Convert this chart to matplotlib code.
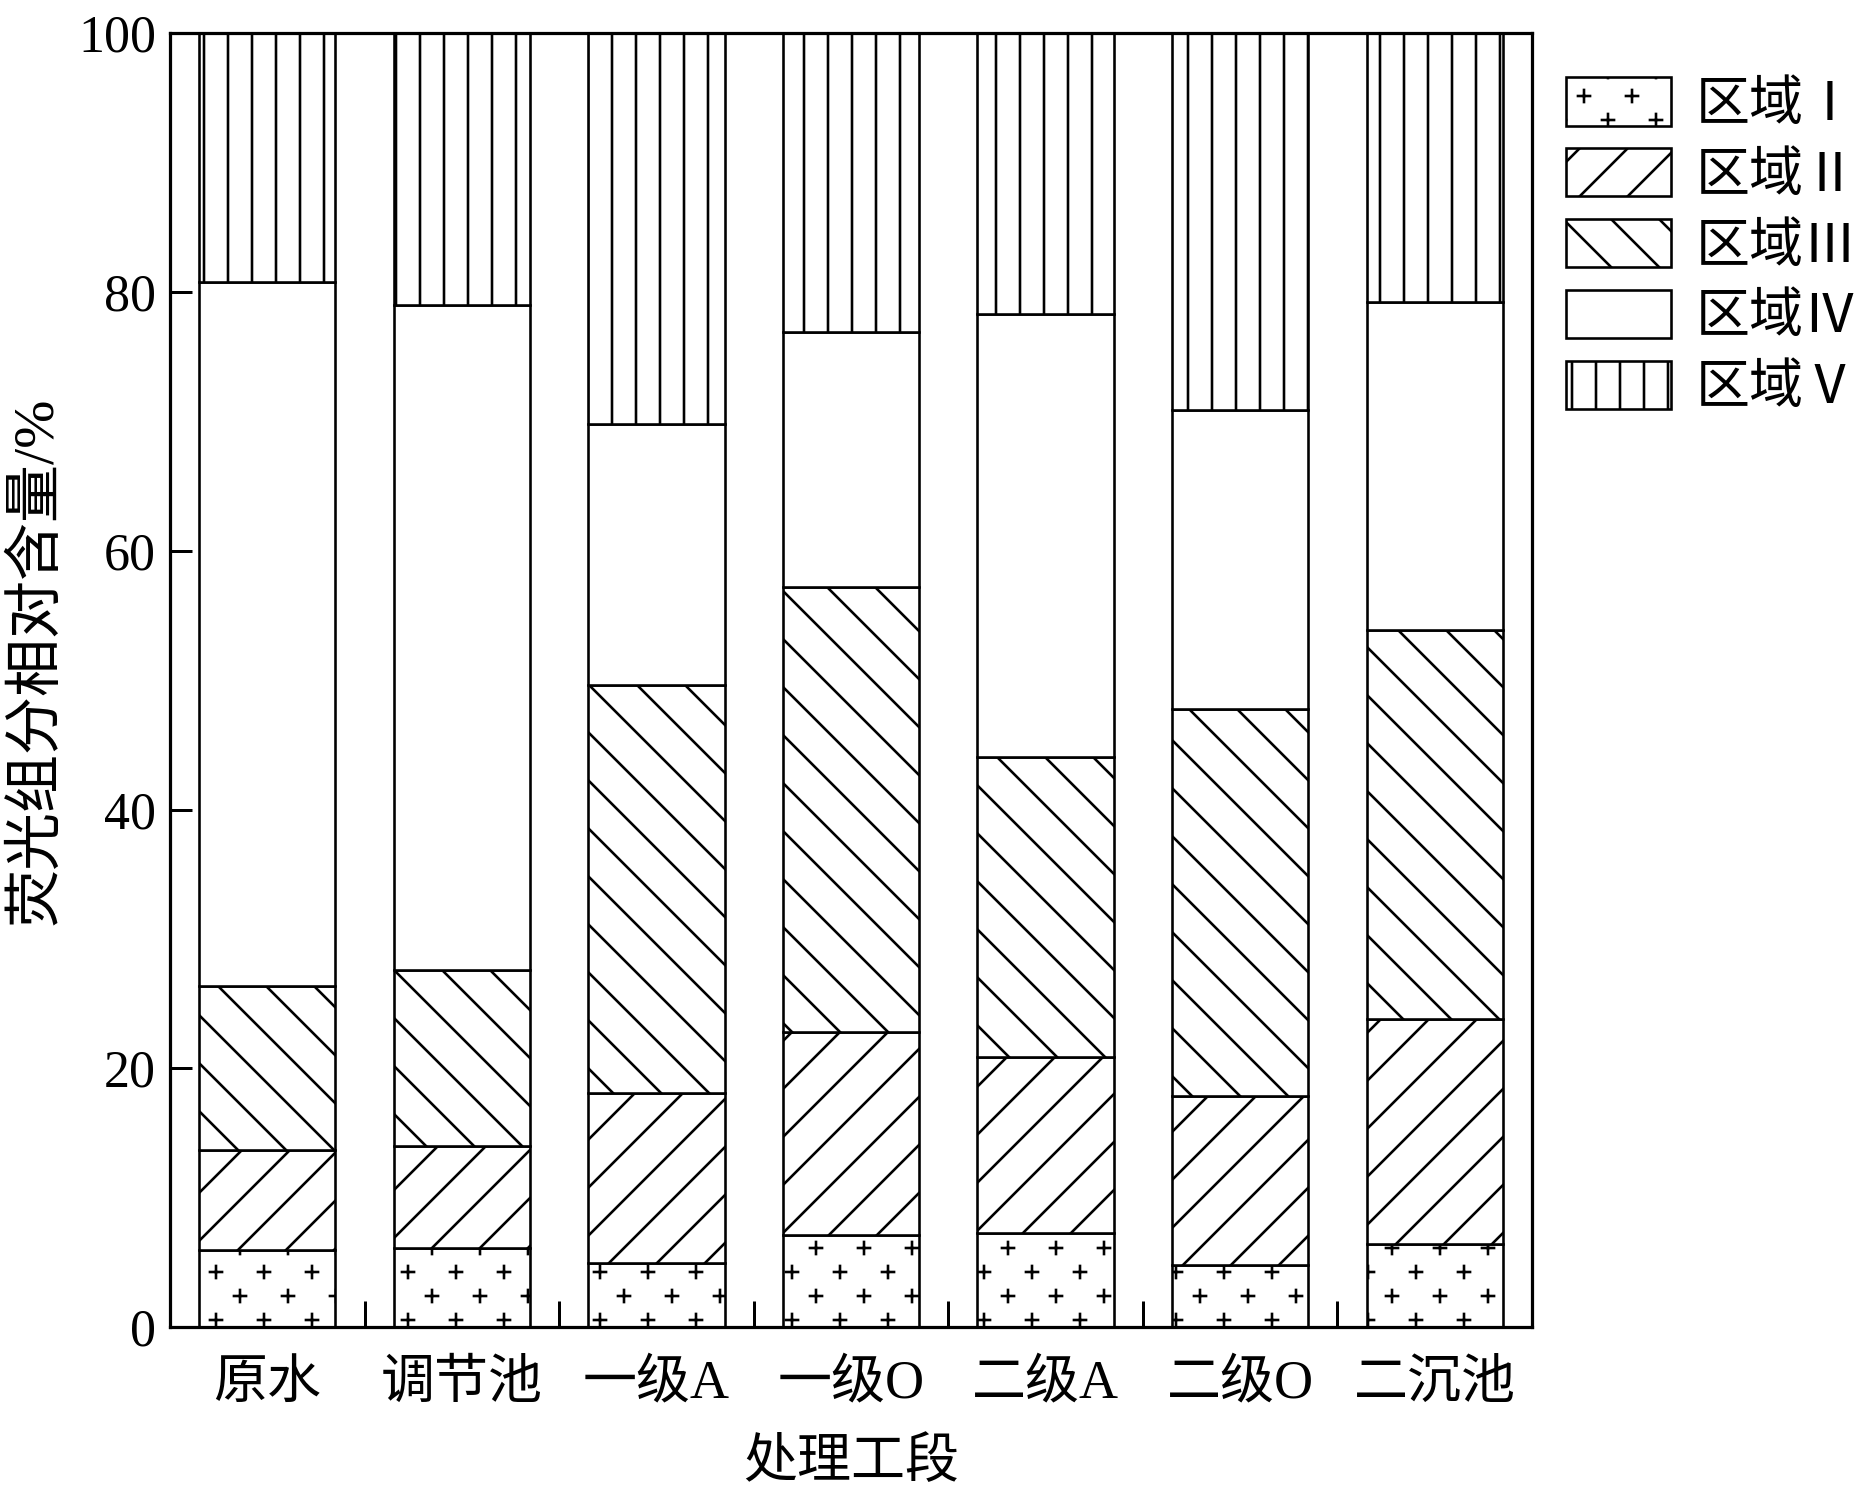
import numpy as np
import matplotlib
matplotlib.use('Agg')
import matplotlib.pyplot as plt
import matplotlib.hatch as mhatch
from matplotlib.path import Path

plt.rcParams['font.family'] = ['Liberation Serif', 'Noto Sans CJK SC', 'DejaVu Sans']
plt.rcParams['hatch.linewidth'] = 1.3
plt.rcParams['axes.unicode_minus'] = False

# data (relative content of each fluorescence region, %)
stages = ['原水', '调节池', '一级A', '一级O', '二级A', '二级O', '二沉池']
region_1 = [6.0, 6.1, 5.0, 7.1, 7.3, 4.8, 6.4]
region_2 = [7.7, 7.9, 13.1, 15.7, 13.6, 13.1, 17.4]
region_3 = [12.7, 13.6, 31.5, 34.4, 23.2, 29.9, 30.1]
region_4 = [54.4, 51.4, 20.2, 19.7, 34.2, 23.1, 25.3]
region_5 = [19.2, 21.0, 30.2, 23.1, 21.7, 29.1, 20.8]
legend_labels = ['区域Ⅰ', '区域Ⅱ', '区域Ⅲ', '区域Ⅳ', '区域Ⅴ']
hatches = ['*', '/', '\\', '', '|']


# small "+" markers as a hatch (takes the place of the '*' star hatch)
class PlusHatch(mhatch.HatchPatternBase):
    arm = 0.042

    def __init__(self, hatch, density):
        n = int(hatch.count('*') * density) // 2
        pts = []
        if n > 0:
            for j in range(2 * n + 1):
                if j % 2 == 0:
                    xs = np.arange(n + 1) / n
                else:
                    xs = (np.arange(n) + 0.5) / n
                for x in xs:
                    pts.append((x, j / (2 * n)))
        self.pts = np.array(pts).reshape(-1, 2)
        self.num_vertices = len(self.pts) * 4

    def set_vertices_and_codes(self, vertices, codes):
        a = self.arm
        for i, (x, y) in enumerate(self.pts):
            vertices[4 * i:4 * i + 4] = [(x - a, y), (x + a, y), (x, y - a), (x, y + a)]
            codes[4 * i:4 * i + 4] = [Path.MOVETO, Path.LINETO, Path.MOVETO, Path.LINETO]


mhatch._hatch_types = [PlusHatch if t is mhatch.Stars else t for t in mhatch._hatch_types]

fig = plt.figure(figsize=(1865 / 144, 1496 / 144), dpi=144)
ax = fig.add_axes([0.0912, 0.1128, 0.7302, 0.865])

x = np.arange(len(stages))
bottom = np.zeros(len(stages))
handles = []
for vals, h, lab in zip([region_1, region_2, region_3, region_4, region_5], hatches, legend_labels):
    bars = ax.bar(x, vals, width=0.7, bottom=bottom, color='white', edgecolor='black',
                  linewidth=1.3, hatch=h, label=lab, zorder=2)
    handles.append(bars)
    bottom = bottom + np.array(vals)

ax.set_xlim(-0.5, len(stages) - 0.5)
ax.set_ylim(0, 100)
ax.set_yticks([0, 20, 40, 60, 80, 100])
ax.set_xticks(x)
ax.set_xticks(x[:-1] + 0.5, minor=True)
ax.set_xticklabels(stages, fontsize=27)
ax.tick_params(axis='x', which='major', length=0, pad=16)
ax.tick_params(axis='x', which='minor', direction='in', length=13, width=1.5)
ax.tick_params(axis='y', direction='in', length=11, width=1.5, labelsize=26, pad=7)
for sp in ax.spines.values():
    sp.set_linewidth(1.6)
    sp.set_zorder(3)

ax.set_xlabel('处理工段', fontsize=27, labelpad=14)
ax.set_ylabel('荧光组分相对含量/%', fontsize=29)
ax.yaxis.set_label_coords(-0.078, 0.515)

ax.legend(handles=handles, loc='upper left', bbox_to_anchor=(1.025, 0.966),
          frameon=False, fontsize=27, handlelength=1.95, handleheight=1.0,
          handletextpad=0.45, labelspacing=0.3, borderaxespad=0, borderpad=0)

fig.savefig('out.png', dpi=144)
